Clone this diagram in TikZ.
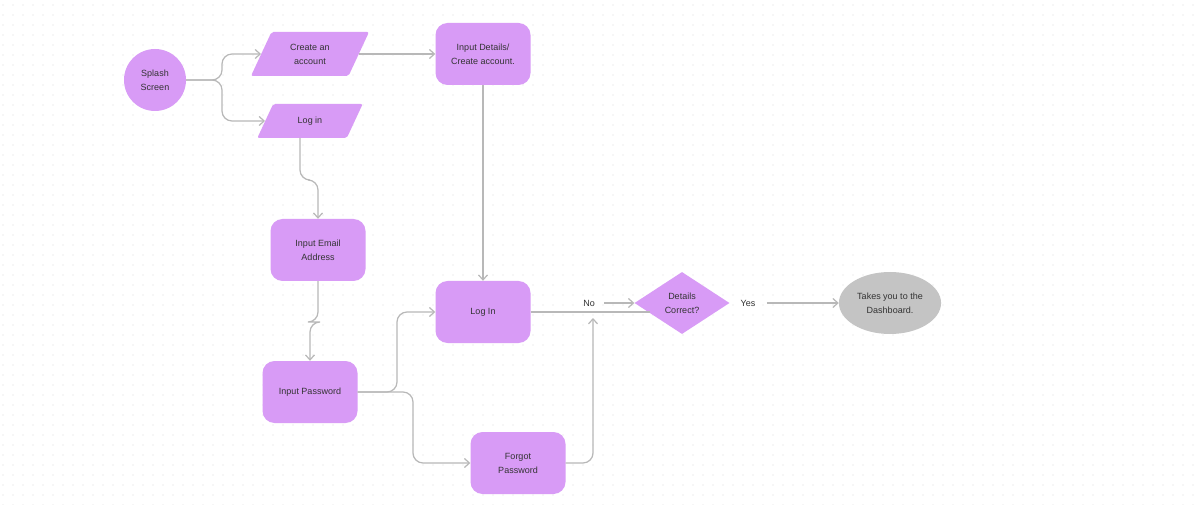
\documentclass[tikz,border=0pt]{standalone}
\usepackage{fontspec}
\setmainfont{Liberation Sans}
\usetikzlibrary{shapes.geometric,arrows.meta}
\definecolor{purp}{HTML}{D89BF6}
\definecolor{greyf}{HTML}{C4C4C4}
\definecolor{ln}{HTML}{B8B8B8}
\definecolor{txt}{HTML}{333333}
\tikzset{
 box/.style={draw=none,fill=purp,rounded corners=12pt,minimum width=95pt,minimum height=62pt,align=center,font=\fontsize{9}{14}\selectfont,text=txt},
 para/.style={trapezium,trapezium left angle=65,trapezium right angle=115,draw=none,fill=purp,rounded corners=2pt,minimum width=70pt,align=center,font=\fontsize{9}{14}\selectfont,text=txt,inner ysep=3pt},
 conn/.style={draw=ln,line width=1.2pt,rounded corners=10pt,-{Straight Barb[length=5pt,width=9pt]}},
 lbl/.style={font=\fontsize{9}{11}\selectfont,text=txt}
}
\begin{document}
\begin{tikzpicture}[x=1pt,y=-1pt]
\useasboundingbox (0,0) rectangle (1200,505);
\fill[white] (0,0) rectangle (1200,505);
\foreach \yy in {5,15,...,505}
  \draw[black!15,line width=1.3pt,line cap=round,dash pattern=on 0pt off 10pt] (3,\yy) -- (1200,\yy);
\node[circle,fill=purp,minimum size=62pt,align=center,font=\fontsize{9}{14}\selectfont,text=txt] (splash) at (155,80) {Splash\\Screen};
\node[para,minimum height=44pt] (create) at (310,54) {Create an\\account};
\node[para,minimum height=34pt] (login1) at (310,121) {Log in};
\node[box] (details) at (483,54) {Input Details/\\Create account.};
\node[box] (email) at (318,250) {Input Email\\Address};
\node[box] (pass) at (310,392) {Input Password};
\node[box] (login) at (483,312) {Log In};
\node[box] (forgot) at (518,463) {Forgot\\Password};
\node[diamond,fill=purp,minimum width=95pt,minimum height=62pt,aspect=1.55,inner sep=0pt,align=center,font=\fontsize{9}{14}\selectfont,text=txt] (dec) at (682,303) {Details\\Correct?};
\node[ellipse,fill=greyf,minimum width=95pt,minimum height=62pt,align=center,font=\fontsize{9}{14}\selectfont,text=txt] (dash) at (890,303) {Takes you to the\\Dashboard.};
\node[lbl] (no) at (589,303) {No};
\node[lbl] (yes) at (748,303) {Yes};
\coordinate (fj) at (593,318);
\draw[conn] (splash.east) -- (222,80) -- (222,54) -- (create.west|-0,54);
\draw[conn] (splash.east) -- (222,80) -- (222,121) -- (login1.west|-0,121);
\draw[conn] (create.east|-0,54) -- (details.west);
\draw[conn] (300,138) -- (300,180) -- (318,180) -- (email.north);
\draw[conn] (details.south) -- (login.north);
\draw[conn] (email.south) -- (318,322) -- (310,322) -- (pass.north);
\draw[conn] (pass.east) -- (397,392) -- (397,312) -- (login.west);
\draw[conn] (pass.east) -- (413,392) -- (413,463) -- (forgot.west);
\draw[conn] (forgot.east) -- (593,463) -- (fj);
\draw[draw=ln,line width=1.2pt] (login.east) -- (650,312);
\draw[conn] (no.east) ++(6,0) -- (dec.west);
\draw[conn] (yes.east) ++(8,0) -- (dash.west);
\end{tikzpicture}
\end{document}
